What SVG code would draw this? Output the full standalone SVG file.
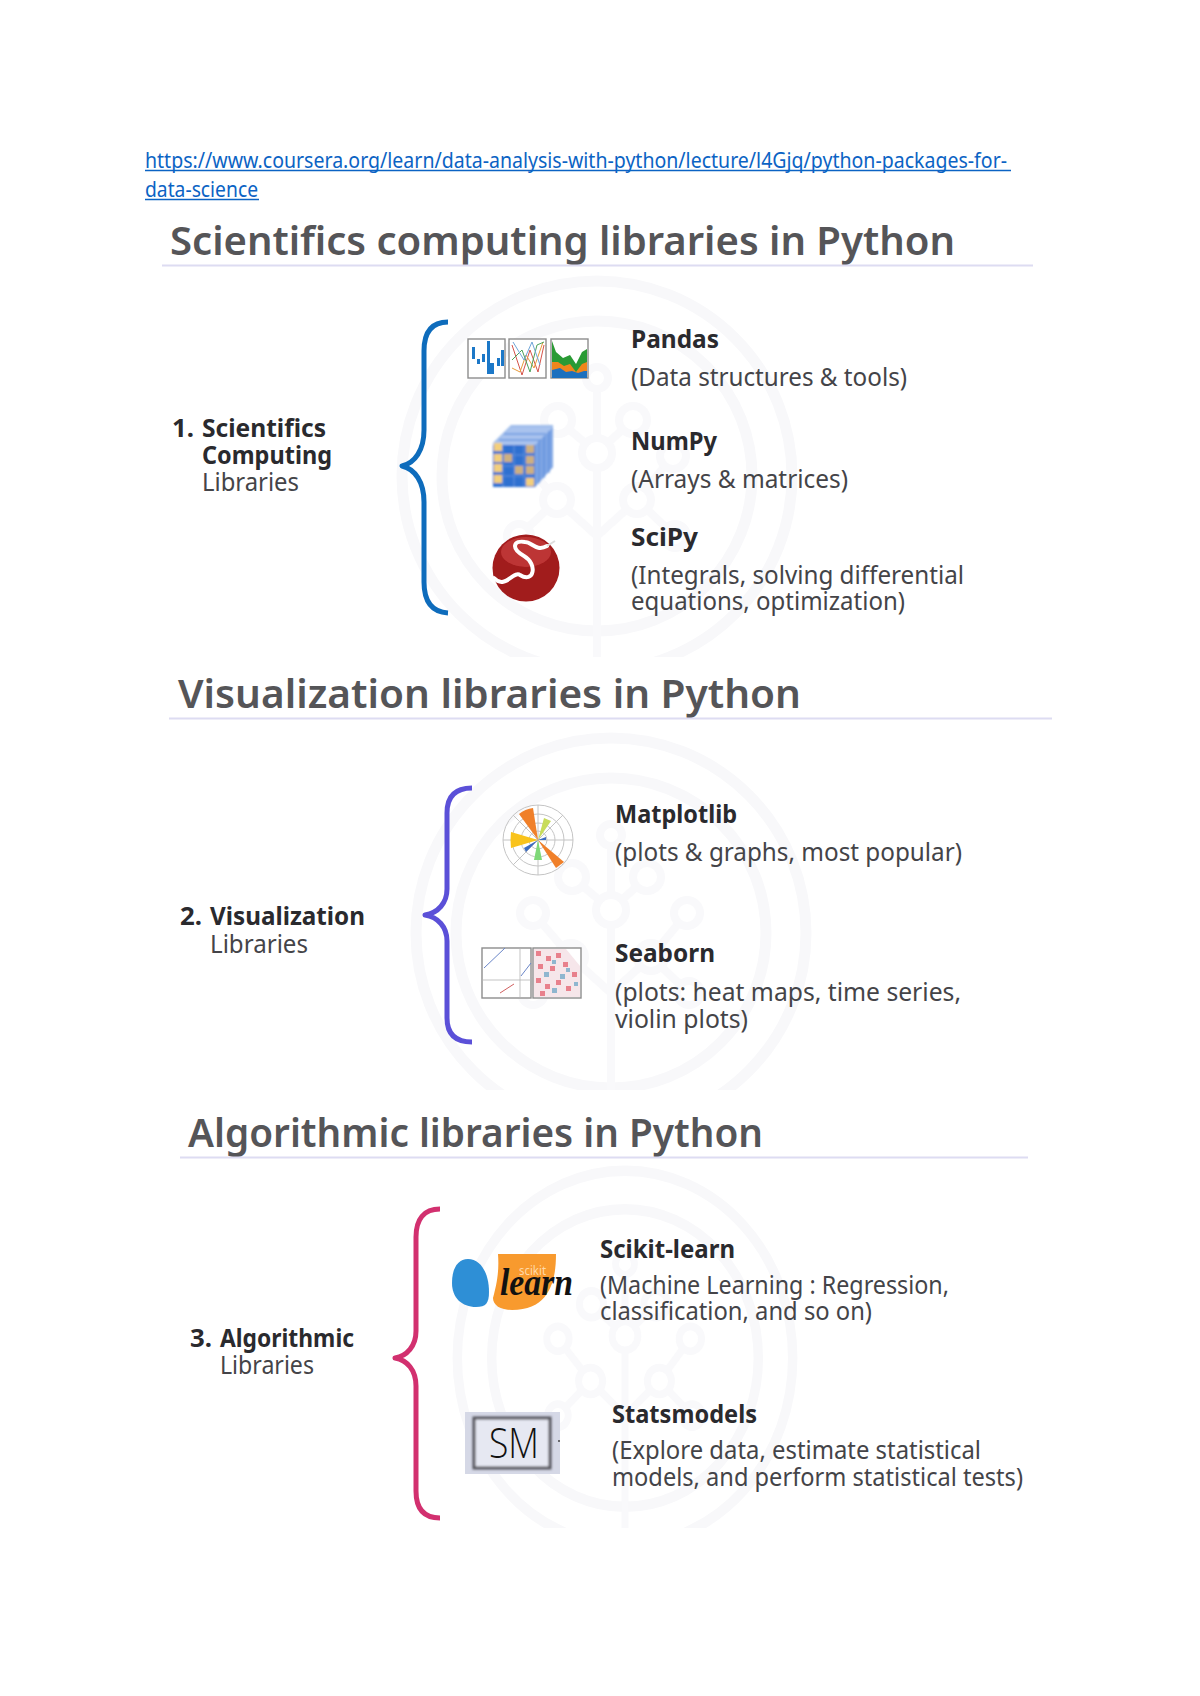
<svg xmlns="http://www.w3.org/2000/svg" width="1200" height="1696" viewBox="0 0 1200 1696">
<style>
text{font-family:"Noto Sans","Open Sans","Liberation Sans",sans-serif}
.link{font-size:21px;fill:#0b63c4}
.title{font-size:39px;font-weight:600;fill:#555558}
.b{font-size:25px;font-weight:700;fill:#2a2a2e}
.r{font-size:25px;fill:#444448}
.rule{stroke:#dddcf2;stroke-width:1.8;fill:none}
.brace{fill:none;stroke-width:5;stroke-linecap:butt;stroke-linejoin:round}
.wm{fill:none;stroke:#f8f8fa;stroke-width:11}
.wt{fill:none;stroke:#f9f9fb;stroke-width:8}
.wn{fill:#fff;stroke:#f9f9fb;stroke-width:8}
.box{fill:#fff;stroke:#8d8d8d;stroke-width:1.4}
.soft{filter:url(#soft)}
.softer{filter:url(#softer)}
</style>
<defs>
<filter id="soft" x="-10%" y="-10%" width="120%" height="120%"><feGaussianBlur stdDeviation="0.6"/></filter>
<filter id="softer" x="-10%" y="-10%" width="120%" height="120%"><feGaussianBlur stdDeviation="1"/></filter>
<clipPath id="c1"><rect x="380" y="270" width="440" height="387"/></clipPath>
<clipPath id="c2"><rect x="390" y="725" width="440" height="365"/></clipPath>
<clipPath id="c3"><rect x="430" y="1160" width="390" height="368"/></clipPath>
<g id="wmark">
<circle class="wm" r="195"/>
<circle class="wm" r="155"/>
<path class="wt" d="M0,-88V200M-39,-56L0,-23L36,-56M-78,-20L-40,24L0,60M76,-20L40,24L0,60M-78,60L-40,24M78,60L40,24"/>
<circle class="wn" cy="-98" r="11"/>
<circle class="wn" cx="-39" cy="-56" r="14"/>
<circle class="wn" cx="36" cy="-56" r="14"/>
<circle class="wn" cy="-23" r="15"/>
<circle class="wn" cx="-78" cy="-20" r="13"/>
<circle class="wn" cx="76" cy="-20" r="13"/>
<circle class="wn" cx="-40" cy="24" r="14"/>
<circle class="wn" cx="40" cy="24" r="14"/>
<circle class="wn" cx="-78" cy="60" r="12"/>
<circle class="wn" cx="78" cy="60" r="12"/>
</g>
</defs>
<rect width="1200" height="1696" fill="#fff"/>

<g id="watermarks">
<g clip-path="url(#c1)"><use href="#wmark" transform="translate(597,476)"/></g>
<g clip-path="url(#c2)"><use href="#wmark" transform="translate(611,933)"/></g>
<g clip-path="url(#c3)"><use href="#wmark" transform="translate(625,1358) scale(.86,.96)"/></g>
</g>

<g id="source-link">
<text class="link" x="145" y="168" textLength="862" lengthAdjust="spacingAndGlyphs">https://www.coursera.org/learn/data-analysis-with-python/lecture/l4Gjq/python-packages-for-</text>
<text class="link" x="145" y="197" textLength="113" lengthAdjust="spacingAndGlyphs">data-science</text>
<path d="M145,170.500H1011M145,199.500H259" stroke="#0b63c4" stroke-width="1.4" fill="none"/>
</g>

<g id="heading-1">
<text class="title" x="170" y="255" textLength="785" lengthAdjust="spacingAndGlyphs">Scientifics computing libraries in Python</text>
<path class="rule" d="M162,265.500H1033"/>
</g>
<g id="group-1">
<text class="b" x="172" y="437" textLength="22" lengthAdjust="spacingAndGlyphs">1.</text>
<text class="b" x="202" y="437" textLength="124" lengthAdjust="spacingAndGlyphs">Scientifics</text>
<text class="b" x="202" y="464" textLength="130" lengthAdjust="spacingAndGlyphs">Computing</text>
<text class="r" x="202" y="491" textLength="97" lengthAdjust="spacingAndGlyphs">Libraries</text>
</g>
<g id="pandas">
<g class="soft">
<rect class="box" x="468" y="339" width="37" height="39"/>
<path d="M472,347h3v12h-3zM477,359h3v5h-3zM482,354h3v8h-3zM487,341h3v22h-3zM487,363h7v11h-7zM497,358h3v8h-3zM501,350h3v16h-3z" fill="#1f78c8"/>
<rect class="box" x="509" y="339" width="37" height="39"/>
<path d="M512,345L522,375L530,350L538,372L544,345" fill="none" stroke="#d5534a" stroke-width="1"/>
<path d="M512,368L520,372L526,355L534,368L543,342" fill="none" stroke="#e79a3a" stroke-width="1"/>
<path d="M512,360L522,350L530,372L537,345L544,342" fill="none" stroke="#4ba35a" stroke-width="1"/>
<path d="M513,342L524,360L532,342L540,365" fill="none" stroke="#6fa5d8" stroke-width="1"/>
<rect class="box" x="551" y="339" width="37" height="39"/>
<path d="M552,341L556,352L563,358L570,355L576,364L582,352L587,349V378H552Z" fill="#2a9a34"/>
<path d="M552,362L558,362L564,366L570,364L576,372L582,364L587,362V378H552Z" fill="#f0861e"/>
<path d="M552,370L560,368L566,372L572,371L578,373L584,371L587,371V378H552Z" fill="#1f6fbe"/>
</g>
<text class="b" x="631" y="348" textLength="88" lengthAdjust="spacingAndGlyphs">Pandas</text>
<text class="r" x="631" y="386" textLength="276" lengthAdjust="spacingAndGlyphs">(Data structures &amp; tools)</text>
</g>
<g id="numpy">
<g class="softer">
<path d="M493,443L511,425H553V467L535,487H493Z" fill="#9dbbea"/>
<path d="M493,445H535V487H493Z" fill="#2f6fd0"/>
<path d="M535,445L553,427V467L535,487Z" fill="#7fa6e4"/>
<path d="M493,445L511,427H553L535,445Z" fill="#a9c3ee"/>
<path d="M503,445V487M514,445V487M524,445V487M493,455H535M493,466H535M493,476H535M539,441V483M544,436V478M549,431V473M504,434H546M499,440H541" fill="none" stroke="#5c8fdc" stroke-width="1.500" opacity=".8"/>
<g fill="#f3cf7c"><rect x="494" y="443" width="8" height="8"/><rect x="494" y="454" width="8" height="8"/><rect x="494" y="464" width="8" height="8"/><rect x="494" y="475" width="8" height="8"/><rect x="504" y="454" width="8" height="8" fill="#cdb080"/><rect x="515" y="466" width="8" height="8" fill="#cdb080"/><rect x="526" y="445" width="8" height="8" fill="#cdb080"/><rect x="526" y="456" width="8" height="8" fill="#cdb080"/><rect x="526" y="466" width="8" height="8" fill="#cdb080"/><rect x="526" y="478" width="8" height="8"/></g>
</g>
<text class="b" x="631" y="450" textLength="86" lengthAdjust="spacingAndGlyphs">NumPy</text>
<text class="r" x="631" y="488" textLength="217" lengthAdjust="spacingAndGlyphs">(Arrays &amp; matrices)</text>
</g>
<g id="scipy">
<g class="soft">
<circle cx="526" cy="568" r="33.500" fill="#a11a1c"/>
<ellipse cx="526" cy="552" rx="25" ry="15" fill="#c9423f" opacity=".7"/>
<path d="M494,578C505,590 514,570 520,575C534,584 538,564 524,556C510,548 514,540 525,542C532,542 536,552 547,546" fill="none" stroke="#fff" stroke-width="4" stroke-linecap="round"/>
<path d="M547,546L555,541" stroke="#ddd" stroke-width="2"/>
</g>
<text class="b" x="631" y="546" textLength="67" lengthAdjust="spacingAndGlyphs">SciPy</text>
<text class="r" x="631" y="584" textLength="333" lengthAdjust="spacingAndGlyphs">(Integrals, solving differential</text>
<text class="r" x="631" y="610" textLength="274" lengthAdjust="spacingAndGlyphs">equations, optimization)</text>
</g>

<g id="heading-2">
<text class="title" x="178" y="708" textLength="623" lengthAdjust="spacingAndGlyphs">Visualization libraries in Python</text>
<path class="rule" d="M169,718.500H1052"/>
</g>
<g id="group-2">
<text class="b" x="180" y="925" textLength="22" lengthAdjust="spacingAndGlyphs">2.</text>
<text class="b" x="210" y="925" textLength="155" lengthAdjust="spacingAndGlyphs">Visualization</text>
<text class="r" x="210" y="953" textLength="98" lengthAdjust="spacingAndGlyphs">Libraries</text>
</g>
<g id="matplotlib">
<g class="soft" transform="translate(538,840)">
<g fill="none" stroke="#c4c4c4" stroke-width="1"><circle r="35"/><circle r="26"/><circle r="17"/><circle r="9"/><path d="M-35,0H35M0,-35V35M-25,-25L25,25M-25,25L25,-25"/></g>
<path d="M0,0L-19,-26Q-13,-31 -5,-32Z" fill="#f0802a"/>
<path d="M0,0L6,-22L13,-19Z" fill="#c8dc5a"/>
<path d="M0,0L-27,-8Q-28,0 -27,8Z" fill="#f9c31a"/>
<path d="M0,0L-14,8L-12,12Z" fill="#3c6cc0"/>
<path d="M0,0L8,-3L8,0Z" fill="#3c6cc0"/>
<path d="M0,0L-4,20L4,20Z" fill="#7fd878"/>
<path d="M0,0L18,28L26,22Z" fill="#f0802a"/>
</g>
<text class="b" x="615" y="823" textLength="122" lengthAdjust="spacingAndGlyphs">Matplotlib</text>
<text class="r" x="615" y="861" textLength="347" lengthAdjust="spacingAndGlyphs">(plots &amp; graphs, most popular)</text>
</g>
<g id="seaborn">
<g class="soft">
<rect class="box" x="482" y="948" width="49" height="50"/>
<path d="M520,948V998M482,980H531" fill="none" stroke="#b4b4b4" stroke-width=".8"/>
<path d="M484,968L505,948M521,976L531,963" fill="none" stroke="#6a86c8" stroke-width="1"/>
<path d="M500,993L514,984" fill="none" stroke="#d06060" stroke-width="1"/>
<rect class="box" x="533" y="948" width="48" height="50"/>
<path d="M534,949H566L580,966V997H534Z" fill="#f6e6ea"/>
<g fill="#e8808c"><rect x="536" y="951" width="5" height="5"/><rect x="546" y="956" width="5" height="5"/><rect x="556" y="953" width="5" height="5"/><rect x="538" y="964" width="5" height="5"/><rect x="550" y="966" width="5" height="5"/><rect x="563" y="962" width="5" height="5"/><rect x="572" y="972" width="5" height="5"/><rect x="536" y="978" width="5" height="5"/><rect x="545" y="984" width="5" height="5"/><rect x="556" y="980" width="5" height="5"/><rect x="566" y="986" width="5" height="5"/><rect x="540" y="991" width="5" height="5"/></g>
<g fill="#8fb6cf"><rect x="552" y="960" width="4" height="4"/><rect x="544" y="972" width="5" height="5"/><rect x="560" y="974" width="5" height="5"/><rect x="566" y="968" width="4" height="4"/><rect x="552" y="988" width="5" height="5"/><rect x="574" y="982" width="4" height="4"/></g>
</g>
<text class="b" x="615" y="962" textLength="100" lengthAdjust="spacingAndGlyphs">Seaborn</text>
<text class="r" x="615" y="1001" textLength="346" lengthAdjust="spacingAndGlyphs">(plots: heat maps, time series,</text>
<text class="r" x="615" y="1028" textLength="133" lengthAdjust="spacingAndGlyphs">violin plots)</text>
</g>

<g id="heading-3">
<text class="title" x="188" y="1147" textLength="575" lengthAdjust="spacingAndGlyphs">Algorithmic libraries in Python</text>
<path class="rule" d="M180,1157.500H1028"/>
</g>
<g id="group-3">
<text class="b" x="190" y="1347" textLength="22" lengthAdjust="spacingAndGlyphs">3.</text>
<text class="b" x="220" y="1347" textLength="134" lengthAdjust="spacingAndGlyphs">Algorithmic</text>
<text class="r" x="220" y="1374" textLength="94" lengthAdjust="spacingAndGlyphs">Libraries</text>
</g>
<g id="scikit-learn">
<g class="soft">
<path d="M452,1283C452,1268 458,1259 468,1259C480,1259 489,1272 489,1292C489,1303 486,1307 476,1307C462,1307 452,1298 452,1283Z" fill="#2f8fd6"/>
<path d="M498,1254H556C556,1280 550,1310 512,1310C500,1310 493,1305 493,1298C498,1280 499,1268 498,1254Z" fill="#f89a2e"/>
</g>
<text x="519" y="1275" font-size="12" fill="#ffd9a8" textLength="27" lengthAdjust="spacingAndGlyphs">scikit</text>
<text x="500" y="1295" font-size="38" font-weight="700" font-style="italic" fill="#111" style="font-family:'Liberation Serif',serif" textLength="73" lengthAdjust="spacingAndGlyphs">learn</text>
<text class="b" x="600" y="1258" textLength="135" lengthAdjust="spacingAndGlyphs">Scikit-learn</text>
<text class="r" x="600" y="1294" textLength="349" lengthAdjust="spacingAndGlyphs">(Machine Learning : Regression,</text>
<text class="r" x="600" y="1320" textLength="272" lengthAdjust="spacingAndGlyphs">classification, and so on)</text>
</g>
<g id="statsmodels">
<rect x="465" y="1412" width="95" height="62" fill="#d5d8e6" class="soft"/>
<rect x="474" y="1418" width="76" height="50" fill="#e6e8f2" stroke="#55555c" stroke-width="3" class="softer"/>
<circle cx="559" cy="1441" r="1" fill="#444"/>
<text x="489" y="1458" font-size="42" fill="#111" style="font-family:'Open Sans',sans-serif;font-weight:300" textLength="50" lengthAdjust="spacingAndGlyphs">SM</text>
<text class="b" x="612" y="1423" textLength="145" lengthAdjust="spacingAndGlyphs">Statsmodels</text>
<text class="r" x="612" y="1459" textLength="369" lengthAdjust="spacingAndGlyphs">(Explore data, estimate statistical</text>
<text class="r" x="612" y="1486" textLength="411" lengthAdjust="spacingAndGlyphs">models, and perform statistical tests)</text>
</g>

<g id="connectors">
<path class="brace" stroke="#0e6cbc" d="M448,322C432,322 424,332 424,351V430C424,450 415,463 402,466C415,469 424,482 424,502V582C424,602 432,612 448,613"/>
<path class="brace" stroke="#5b50d8" d="M472,788C455,788 447,797 447,813V889C447,903 438,913 425,915C438,917 447,927 447,941V1018C447,1034 455,1042 472,1042"/>
<path class="brace" stroke="#d2306f" d="M440,1209C424,1209 416,1219 416,1237V1331C416,1346 407,1356 395,1358C407,1360 416,1370 416,1386V1491C416,1509 424,1518 440,1518"/>
</g>
</svg>
